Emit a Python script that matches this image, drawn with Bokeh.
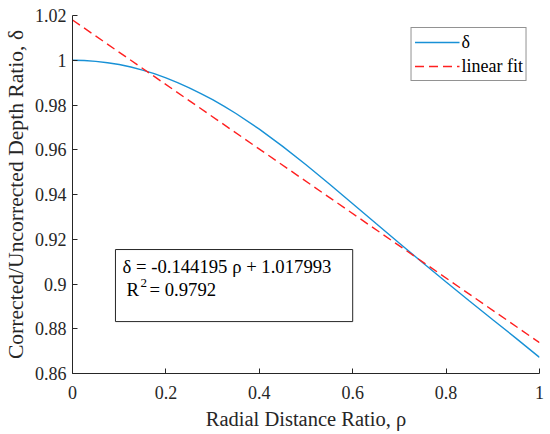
from bokeh.plotting import figure
from bokeh.models import FixedTicker, BoxAnnotation, Label
from bokeh.embed import file_html
from bokeh.resources import INLINE

# data
rho = [0.0, 0.025, 0.05, 0.075, 0.1, 0.125, 0.15, 0.175, 0.2, 0.225, 0.25, 0.275,
       0.3, 0.325, 0.35, 0.4, 0.45, 0.5, 0.55, 0.6, 0.65, 0.7, 0.75, 0.8, 0.85,
       0.9, 0.95, 1.0]
delta = [1.0, 0.9999, 0.9995, 0.9989, 0.9981, 0.9970, 0.9956, 0.9940, 0.9921, 0.9900,
         0.9877, 0.9851, 0.9824, 0.9794, 0.9762, 0.9692, 0.9615, 0.9533, 0.9447, 0.9359,
         0.9270, 0.9182, 0.9095, 0.9009, 0.8924, 0.8840, 0.8757, 0.8672]

fit_slope = -0.144195
fit_icpt = 1.017993
fit_x = [0.0, 1.0]
fit_y = [fit_icpt + fit_slope * x for x in fit_x]

x_ticks = [0.0, 0.2, 0.4, 0.6, 0.8, 1.0]
x_tick_labels = ["0", "0.2", "0.4", "0.6", "0.8", "1"]
y_ticks = [0.86, 0.88, 0.9, 0.92, 0.94, 0.96, 0.98, 1.0, 1.02]
y_tick_labels = ["0.86", "0.88", "0.9", "0.92", "0.94", "0.96", "0.98", "1", "1.02"]

FONT = "Liberation Serif"
INK = "#262626"

p = figure(frame_width=467, frame_height=358, x_range=(0, 1), y_range=(0.86, 1.02),
           min_border_left=65, min_border_right=8, min_border_top=15, min_border_bottom=58,
           output_backend="svg", toolbar_location=None,
           x_axis_label="Radial Distance Ratio, ρ",
           y_axis_label="Corrected/Uncorrected Depth Ratio, δ")
p.outline_line_color = None
p.grid.visible = False

p.line(rho, delta, color="#1891d6", line_width=1.4, legend_label="δ")
p.line(fit_x, fit_y, color="#ff2020", line_width=1.4, line_dash="9 5", legend_label="linear fit")

p.xaxis.ticker = FixedTicker(ticks=x_ticks)
p.xaxis.major_label_overrides = dict(zip(x_ticks, x_tick_labels))
p.yaxis.ticker = FixedTicker(ticks=y_ticks)
p.yaxis.major_label_overrides = dict(zip(y_ticks, y_tick_labels))

for ax in (p.xaxis[0], p.yaxis[0]):
    ax.axis_line_color = INK
    ax.major_tick_line_color = INK
    ax.major_tick_in = 5
    ax.major_tick_out = 0
    ax.minor_tick_line_color = None
    ax.major_label_text_font = FONT
    ax.major_label_text_font_size = "18px"
    ax.major_label_text_color = INK
    ax.axis_label_text_font = FONT
    ax.axis_label_text_font_style = "normal"
    ax.axis_label_text_color = INK
p.xaxis.axis_label_text_font_size = "20.5px"
p.yaxis.axis_label_text_font_size = "21.6px"
p.xaxis.major_label_standoff = 12
p.yaxis.major_label_standoff = 6
p.xaxis.axis_label_standoff = 6
p.yaxis.axis_label_standoff = 4

leg = p.legend[0]
leg.location = "top_right"
leg.margin = 12
leg.padding = 3
leg.spacing = 2
leg.glyph_width = 45
leg.glyph_height = 22
leg.label_height = 22
leg.label_standoff = 2
leg.label_text_font = FONT
leg.label_text_font_size = "18px"
leg.label_text_color = "#000000"
leg.border_line_color = INK
leg.border_line_width = 1
leg.background_fill_alpha = 1

# equation box
p.add_layout(BoxAnnotation(left=0.092, right=0.6, bottom=0.8832, top=0.9154,
                           fill_color="white", fill_alpha=1,
                           line_color=INK, line_width=1, line_alpha=1))
eq_style = dict(text_font=FONT, text_font_size="18.7px", text_color="#000000",
                text_baseline="middle")
p.add_layout(Label(x=0.107, y=0.9078, text="δ = -0.144195  ρ + 1.017993", **eq_style))
p.add_layout(Label(x=0.1156, y=0.8975, text="R", **eq_style))
p.add_layout(Label(x=0.1156, y=0.8975, x_offset=14, y_offset=7, text="2",
                   text_font=FONT, text_font_size="13px", text_color="#000000",
                   text_baseline="middle"))
p.add_layout(Label(x=0.1156, y=0.8975, x_offset=23, text="= 0.9792", **eq_style))

open("out.html", "w").write(file_html(p, INLINE))
